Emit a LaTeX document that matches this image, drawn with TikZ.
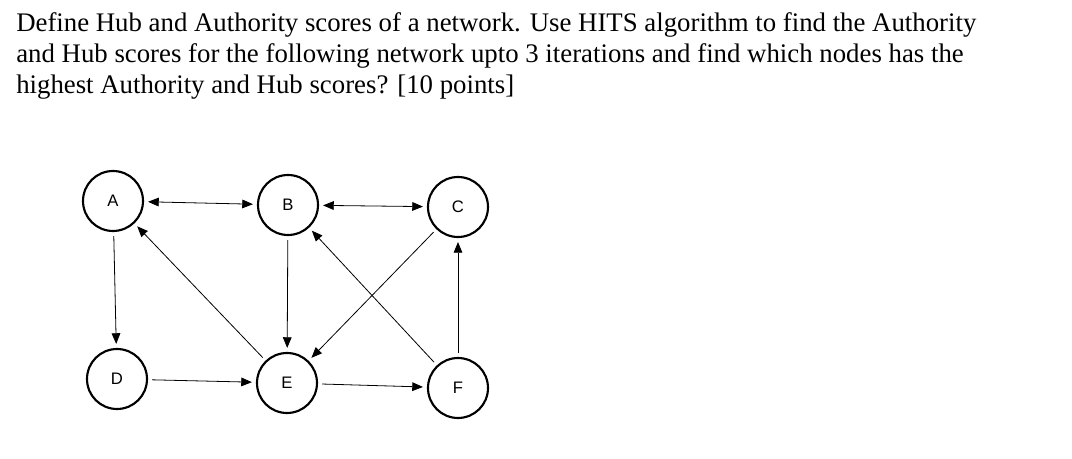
\documentclass[tikz,border=0pt]{standalone}
\usepackage{fontspec}
\setmainfont{Liberation Serif}
\newfontfamily\lsans{Liberation Sans}
\usetikzlibrary{arrows.meta}
\begin{document}
\begin{tikzpicture}[x=0.75pt,y=-0.75pt,
  nd/.style={circle,draw,line width=1.6pt,minimum size=45pt,inner sep=0pt,font=\lsans\fontsize{12.5}{14}\selectfont},
  ed/.style={line width=0.6pt,-{Triangle[length=8pt,width=6.5pt]},shorten >=3pt,shorten <=3pt},
  bd/.style={line width=0.6pt,{Triangle[length=8pt,width=6.5pt]}-{Triangle[length=8pt,width=6.5pt]},shorten >=3pt,shorten <=3pt}]
\useasboundingbox (0,0) rectangle (1072,459);
\node[anchor=north west,align=left,inner sep=0pt,font=\fontsize{20.1}{23.5}\selectfont] (t) at (16,12)
{Define Hub and Authority scores of a network. Use HITS algorithm to find the Authority\\
and Hub scores for the following network upto 3 iterations and find which nodes has the\\
highest Authority and Hub scores? [10 points]};
\node[nd] (A) at (113,201) {A};
\node[nd] (B) at (288,205) {B};
\node[nd] (C) at (458,207) {C};
\node[nd] (D) at (117,379) {D};
\node[nd] (E) at (287,383) {E};
\node[nd] (F) at (458,388) {F};
\draw[bd] (A) -- (B);
\draw[bd] (B) -- (C);
\draw[ed] (A) -- (D);
\draw[ed] (D) -- (E);
\draw[ed] (E) -- (F);
\draw[ed] (F) -- (C);
\draw[ed] (B) -- (E);
\draw[ed] (F) -- (B);
\draw[ed] (C) -- (E);
\draw[ed] (E) -- (A);
\end{tikzpicture}
\end{document}
